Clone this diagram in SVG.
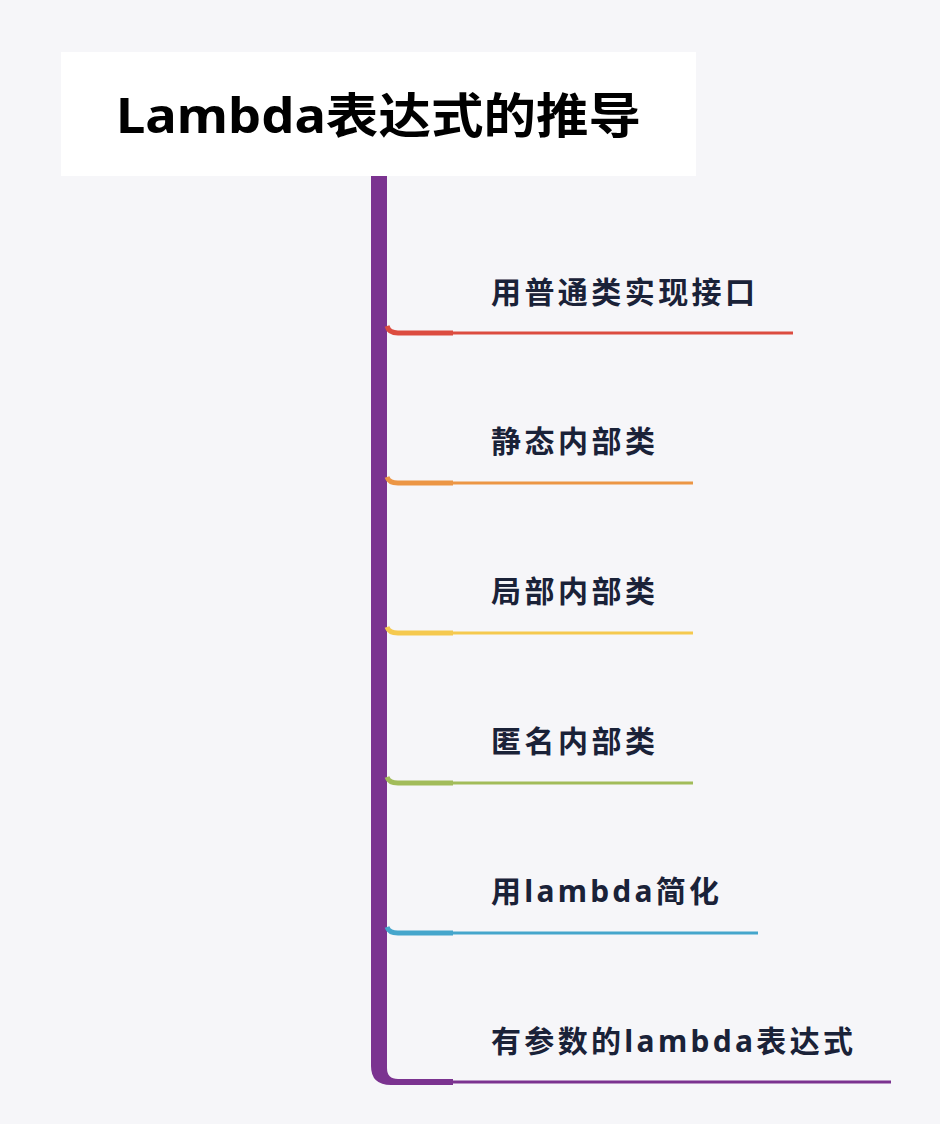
<svg xmlns="http://www.w3.org/2000/svg" width="940" height="1124" viewBox="0 0 940 1124">
<style>
.t{font-family:"Noto Sans","Noto Sans CJK SC",sans-serif;font-weight:bold;font-size:30px;fill:#1a2238}
.th{stroke-width:5;fill:none}
.tn{stroke-width:3;fill:none}
</style>
<rect width="940" height="1124" fill="#f6f6f9"/>
<g id="connectors">
<path d="M371,176 H387 V1068 Q387,1079 398,1079 H453 V1085 H391 Q371,1085 371,1066 Z" fill="#7b3390"/>
<path d="M453,1082 H891" stroke="#7b3390" class="tn"/>
<g stroke="#dc4c40"><path class="th" d="M387,326 Q389,333 398,333 H453"/><path class="tn" d="M453,333 H793"/></g>
<g stroke="#ec9645"><path class="th" d="M387,477 Q389,483 398,483 H453"/><path class="tn" d="M453,483 H693"/></g>
<g stroke="#f5c94f"><path class="th" d="M387,627 Q389,633 398,633 H453"/><path class="tn" d="M453,633 H693"/></g>
<g stroke="#a2bc5a"><path class="th" d="M387,777 Q389,783 398,783 H453"/><path class="tn" d="M453,783 H693"/></g>
<g stroke="#45a6cc"><path class="th" d="M387,927 Q389,933 398,933 H453"/><path class="tn" d="M453,933 H758"/></g>
</g>
<g id="root"><rect x="61" y="52" width="635" height="124" fill="#ffffff"/>
<text x="116" y="133" textLength="525" lengthAdjust="spacingAndGlyphs" style="font-family:'Noto Sans','Noto Sans CJK SC',sans-serif;font-weight:bold;font-size:48px;fill:#000">Lambda表达式的推导</text></g>
<g id="n1"><text class="t" x="491" y="303" textLength="264">用普通类实现接口</text></g>
<g id="n2"><text class="t" x="491" y="452" textLength="164">静态内部类</text></g>
<g id="n3"><text class="t" x="491" y="602" textLength="164">局部内部类</text></g>
<g id="n4"><text class="t" x="491" y="752" textLength="164">匿名内部类</text></g>
<g id="n5"><text class="t" x="491" y="902" textLength="228">用lambda简化</text></g>
<g id="n6"><text class="t" x="491" y="1052" textLength="362">有参数的lambda表达式</text></g>
</svg>
